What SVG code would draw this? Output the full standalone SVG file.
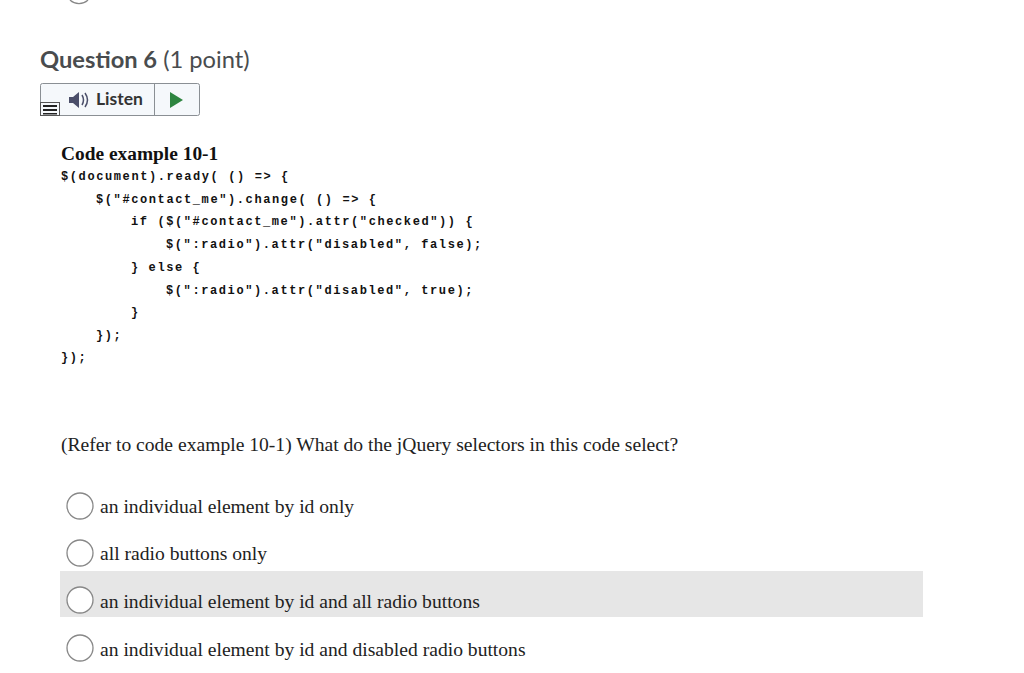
<svg xmlns="http://www.w3.org/2000/svg" width="1024" height="673" viewBox="0 0 1024 673">
<style>
.code{font-family:"Liberation Mono",monospace;font-weight:bold;font-size:12px;letter-spacing:1.6px;fill:#111}
.opt{font-family:"Liberation Serif",serif;font-size:19.6px;fill:#222}
.rad{fill:#fff;stroke:#888;stroke-width:1.3}
</style>
<rect width="1024" height="673" fill="#fff"/>
<path d="M70 0 A13 13 0 0 0 88 0" fill="none" stroke="#888" stroke-width="1.3"/>
<g id="title"><text x="40" y="68" font-family="Lato,sans-serif" font-size="23.7" fill="#494c4e"><tspan font-weight="bold">Question 6</tspan> (1 point)</text></g>
<g id="listen">
<rect x="40.5" y="83.5" width="159" height="32" rx="2" fill="#f5f8fb" stroke="#8a8f94"/>
<line x1="154.5" y1="84" x2="154.5" y2="115" stroke="#8a8f94"/>
<rect x="40.5" y="102.5" width="19" height="13" fill="#f5f8fb" stroke="#555"/>
<rect x="43" y="105" width="14" height="2" fill="#222"/><rect x="43" y="109" width="14" height="2" fill="#222"/><rect x="43" y="113" width="14" height="1.5" fill="#222"/>
<path d="M69 97 h4 l6 -5 v16 l-6 -5 h-4z" fill="#4b4f6a"/>
<path d="M82 95 q3 5 0 10 M85 93 q5 7 0 14" fill="none" stroke="#4b4f6a" stroke-width="1.5"/>
<text x="96" y="105" font-family="Lato,sans-serif" font-weight="bold" font-size="17.5" fill="#333">Listen</text>
<path d="M170 92 l13 8 l-13 8z" fill="#2e8540"/>
</g>
<g id="code">
<text x="61" y="160" font-family="Liberation Serif,serif" font-weight="bold" font-size="19.4" fill="#111">Code example 10-1</text>
<text class="code" x="61" y="180">$(document).ready( () =&gt; {</text>
<text class="code" x="96" y="203">$("#contact_me").change( () =&gt; {</text>
<text class="code" x="131" y="225">if ($("#contact_me").attr("checked")) {</text>
<text class="code" x="166" y="248">$(":radio").attr("disabled", false);</text>
<text class="code" x="131" y="271">} else {</text>
<text class="code" x="166" y="294">$(":radio").attr("disabled", true);</text>
<text class="code" x="131" y="316">}</text>
<text class="code" x="96" y="339">});</text>
<text class="code" x="61" y="361">});</text>
</g>
<text class="opt" x="61" y="451">(Refer to code example 10-1) What do the jQuery selectors in this code select?</text>
<rect x="60" y="571" width="863" height="46" fill="#e6e6e6"/>
<g id="opt1"><circle class="rad" cx="80" cy="506" r="13"/><text class="opt" x="100" y="513">an individual element by id only</text></g>
<g id="opt2"><circle class="rad" cx="80" cy="553" r="13"/><text class="opt" x="100" y="560">all radio buttons only</text></g>
<g id="opt3"><circle class="rad" cx="80" cy="600" r="13"/><text class="opt" x="100" y="608">an individual element by id and all radio buttons</text></g>
<g id="opt4"><circle class="rad" cx="80" cy="648" r="13"/><text class="opt" x="100" y="656">an individual element by id and disabled radio buttons</text></g>
</svg>
